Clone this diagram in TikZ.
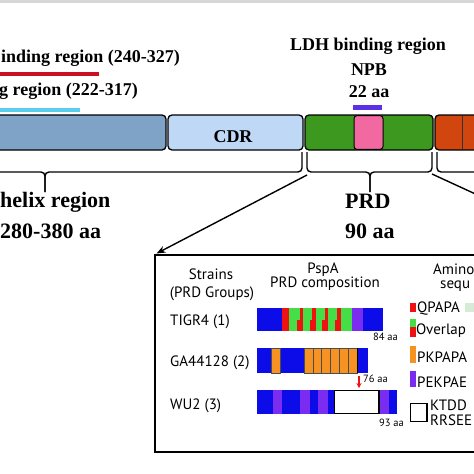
\documentclass[tikz,border=0pt]{standalone}
\usepackage{fontspec}
\setmainfont{Liberation Serif}
\newfontfamily\insetfont{PT Sans}
\usetikzlibrary{arrows.meta}
\definecolor{topgray}{RGB}{214,214,214}
\definecolor{helixc}{RGB}{127,163,198}
\definecolor{cdrc}{RGB}{190,216,246}
\definecolor{prdc}{RGB}{60,152,30}
\definecolor{npbc}{RGB}{242,104,160}
\definecolor{cterm}{RGB}{208,70,14}
\definecolor{redline}{RGB}{204,16,34}
\definecolor{cyanline}{RGB}{90,206,238}
\definecolor{purpleline}{RGB}{92,48,230}
\definecolor{bblue}{RGB}{12,12,232}
\definecolor{bred}{RGB}{238,18,18}
\definecolor{bgreen}{RGB}{70,222,70}
\definecolor{bpurple}{RGB}{122,44,240}
\definecolor{borange}{RGB}{246,146,34}
\definecolor{palegreen}{RGB}{214,234,214}
\tikzset{
  seg/.style={draw=black, line width=1.3pt, rounded corners=4pt},
  bracec/.style={draw=black, line width=1.4pt, rounded corners=4pt},
  bigtxt/.style={anchor=base west, inner sep=0pt, font=\bfseries\fontsize{22}{22}\selectfont},
  midtxt/.style={inner sep=0pt, font=\bfseries\fontsize{18}{18}\selectfont},
  ins/.style={inner sep=0pt, font=\insetfont\fontsize{15}{15}\selectfont},
  small/.style={anchor=base west, inner sep=0pt, font=\insetfont\fontsize{10.5}{10.5}\selectfont},
  orseg/.style={fill=borange, draw=black!70, line width=0.4pt},
}
\begin{document}
\begin{tikzpicture}[x=1pt,y=-1pt]
\path[use as bounding box] (0,0) rectangle (474,474);
\clip (0,0) rectangle (474,474);
\fill[white] (0,0) rectangle (474,474);
\fill[topgray] (0,0) rectangle (474,3);

% top labels and lines
\node[midtxt, anchor=base west] (lfbind) at (1,62) {inding region (240-327)};
\draw[redline, line width=4pt] (0,74) -- (99,74);
\node[midtxt, anchor=base west] (cbind) at (-1,95) {g region (222-317)};
\draw[cyanline, line width=4pt] (0,109.5) -- (80,109.5);
\node[midtxt, anchor=base] (ldh) at (368,50) {LDH binding region};
\node[midtxt, anchor=base] (npb) at (369,75) {NPB};
\node[midtxt, anchor=base] (npbaa) at (369,97) {22 aa};
\draw[purpleline, line width=4.5pt] (353,107.5) -- (382,107.5);

% main bar
\path[seg, fill=helixc] (-10,115) rectangle (166,150);
\path[seg, fill=cdrc] (168,115) rectangle (303,150);
\path[seg, fill=prdc] (305,115) rectangle (433,150);
\path[seg, fill=npbc, rounded corners=3pt, line width=1pt] (354,115.6) rectangle (383,149.4);
\path[seg, fill=cterm] (435,115) rectangle (490,150);
\draw[black!80, line width=1pt] (462,116) -- (462,149);
\node[midtxt, anchor=base] (cdr) at (233,142) {CDR};

% braces
\path[bracec] (-20,172) -- (45,172) -- (45,192);
\path[bracec] (302,152) -- (302,172) -- (45,172) -- (45,192);
\path[bracec] (307,152) -- (307,172) -- (370,172) -- (370,192);
\path[bracec] (432,152) -- (432,172) -- (370,172) -- (370,192);
\path[bracec] (437,152) -- (437,172) -- (490,172);

\node[bigtxt] (helix) at (0,207) {helix region};
\node[bigtxt] (helixaa) at (0,238) {280-380 aa};
\node[bigtxt] (prd) at (345,208) {PRD};
\node[bigtxt] (prdaa) at (345,238) {90 aa};

% inset box and connectors
\coordinate (prdL) at (307,175);
\coordinate (prdR) at (432,174);
\coordinate (boxTL) at (155,255);
\coordinate (boxTR) at (608,255);
\draw[line width=2pt] (boxTL) rectangle (700,452);
\draw[line width=1.4pt, -{Stealth[length=9pt,width=7pt]}] (prdL) -- (156.5,253.5);
\draw[line width=1.4pt] (prdR) -- (boxTR);

% inset headers
\node[ins, anchor=base] (strains) at (211,279) {Strains};
\node[ins, anchor=base] (groups) at (212,297) {(PRD Groups)};
\node[ins, anchor=base] (pspa) at (323,273) {PspA};
\node[ins, anchor=base] (comp) at (325,287) {PRD composition};
\node[ins, anchor=base west] (amino) at (433,274) {Amino};
\node[ins, anchor=base west] (seq) at (440,288) {sequ};

% strain labels
\node[ins, anchor=base west] (tigr) at (170,325) {TIGR4 (1)};
\node[ins, anchor=base west] (ga) at (170,366) {GA44128 (2)};
\node[ins, anchor=base west] (wu) at (170,409) {WU2 (3)};

% TIGR4 bar
\fill[bblue] (257,308) rectangle (282,331);
\fill[bred] (282,308) rectangle (289,331);
\fill[bgreen] (289,308) rectangle (352,331);
\foreach \a in {297,309.5,322,334.5}{
  \fill[bred] (\a+2.5,308) rectangle (\a+6,331);
  \fill[bred] (\a,319.5) rectangle (\a+2.6,331);
}
\fill[bpurple] (352,308) rectangle (363,331);
\fill[bblue] (363,308) rectangle (383,331);
\node[small] (l84) at (373,340) {84 aa};

% GA44128 bar
\fill[bblue] (257,348) rectangle (368,373);
\path[orseg] (271,348) rectangle (280,373);
\foreach \a in {304,312.8,321.6,330.4,339.2,348}{
  \path[orseg] (\a,348) rectangle (\a+8.8,373);
}
\draw[black, line width=0.8pt] (357,348) -- (357,373);
\node[small] (l76) at (363,382) {76 aa};
\coordinate (rtop) at (359,376);
\coordinate (rbot) at (359,388);
\draw[bred, line width=1.3pt, -{Stealth[length=5pt,width=5pt]}] (rtop) -- (rbot);

% WU2 bar
\fill[bblue] (257,390) rectangle (397,414);
\fill[bpurple] (273,390) rectangle (282,414);
\fill[bpurple] (300,390) rectangle (310,414);
\fill[bpurple] (318,390) rectangle (328,414);
\fill[bpurple] (379,390) rectangle (389,414);
\draw[fill=white, line width=1.2pt] (334.5,390.5) rectangle (379,413.5);
\node[small] (l93) at (379,426) {93 aa};

% legend
\fill[bred] (410,303) rectangle (416,312);
\node[ins, anchor=base west] (q) at (417,312) {QPAPA};
\fill[palegreen] (465,303) rectangle (474,312);
\fill[bgreen] (410,319) rectangle (416,327);
\fill[bred] (410,327) rectangle (416,337);
\node[ins, anchor=base west] (ov) at (416,334) {Overlap};
\fill[borange] (410,346) rectangle (416,363);
\node[ins, anchor=base west] (pk) at (417,362) {PKPAPA};
\fill[bpurple] (410,371) rectangle (416,387);
\node[ins, anchor=base west] (pe) at (417,387) {PEKPAE};
\draw[line width=1.2pt, fill=white] (410.5,403.5) rectangle (427,421.5);
\node[ins, anchor=base west] (kt) at (430,410) {KTDD};
\node[ins, anchor=base west] (rr) at (430,425) {RRSEE};
\end{tikzpicture}
\end{document}
